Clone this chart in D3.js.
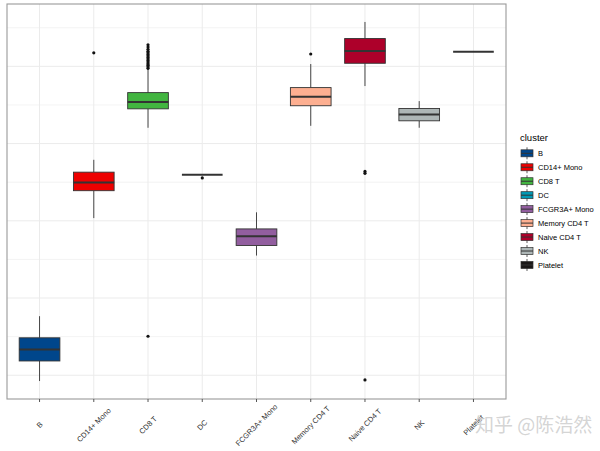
<html><head>
<meta charset="utf-8">
<title>cluster boxplot</title>
<script src="https://d3js.org/d3.v7.min.js"></script>
<style>
  body { margin: 0; background: #fff; }
  svg { display: block; font-family: "Liberation Sans", Arial, sans-serif; }
</style>
</head>
<body>
<div id="chart"></div>
<script>
// categories and colours (ggsci lancet)
const clusters = ["B", "CD14+ Mono", "CD8 T", "DC", "FCGR3A+ Mono", "Memory CD4 T", "Naive CD4 T", "NK", "Platelet"];
const colors = ["#00468B", "#ED0000", "#42B540", "#0099B4", "#925E9F", "#FDAF91", "#AD002A", "#ADB6B6", "#1B1919"];

// box stats: lower whisker, q1, median, q3, upper whisker
const lowerWhisker = [-0.15, 4.07, 6.41, 5.19, 3.10, 6.46, 7.49, 6.41, 8.38];
const q1 = [0.37, 4.78, 6.90, 5.19, 3.36, 6.98, 8.08, 6.59, 8.38];
const median = [0.67, 4.99, 7.08, 5.19, 3.60, 7.21, 8.40, 6.75, 8.38];
const q3 = [0.97, 5.26, 7.32, 5.19, 3.79, 7.45, 8.72, 6.91, 8.38];
const upperWhisker = [1.53, 5.58, 7.93, 5.19, 4.22, 8.06, 9.15, 7.10, 8.38];
const outliers = [
  [],
  [8.35],
  [1.01, 7.95, 7.99, 8.03, 8.07, 8.11, 8.15, 8.19, 8.23, 8.27, 8.31, 8.35, 8.39, 8.44, 8.50, 8.56],
  [5.11],
  [],
  [8.32],
  [5.28, 5.23, -0.12],
  [],
  []
];
const yGrid = [0, 1, 2, 3, 4, 5, 6, 7, 8, 9];

const W = 600, H = 451;
const margin = {left: 7, top: 4, right: 94, bottom: 52};
const pw = W - margin.left - margin.right;
const ph = H - margin.top - margin.bottom;

const svg = d3.select("#chart").append("svg").attr("width", W).attr("height", H);
const g = svg.append("g").attr("transform", `translate(${margin.left},${margin.top})`);

// discrete axis: 0.6 units of expansion on each side, like ggplot
const x = d3.scalePoint().domain(clusters).range([0, pw]).padding(0.6);

const allVals = lowerWhisker.concat(upperWhisker, outliers.flat());
const lo = d3.min(allVals), hi = d3.max(allVals);
const pad = (hi - lo) * 0.05;
const y = d3.scaleLinear().domain([lo - pad, hi + pad]).range([ph, 0]);

// grid
g.selectAll(".hgrid").data(yGrid).join("line")
  .attr("x1", 0).attr("x2", pw)
  .attr("y1", d => y(d)).attr("y2", d => y(d))
  .attr("stroke", "#ebebeb").attr("stroke-width", d => d % 2 ? 0.6 : 1);
g.selectAll(".vgrid").data(clusters).join("line")
  .attr("x1", d => x(d)).attr("x2", d => x(d))
  .attr("y1", 0).attr("y2", ph)
  .attr("stroke", "#ebebeb").attr("stroke-width", 1);

const bw = x.step() * 0.75;
const boxes = g.selectAll(".box").data(clusters).join("g").attr("class", "box");

boxes.append("line")
  .attr("x1", d => x(d)).attr("x2", d => x(d))
  .attr("y1", (d, i) => y(upperWhisker[i])).attr("y2", (d, i) => y(q3[i]))
  .attr("stroke", "#333").attr("stroke-width", 0.9);
boxes.append("line")
  .attr("x1", d => x(d)).attr("x2", d => x(d))
  .attr("y1", (d, i) => y(q1[i])).attr("y2", (d, i) => y(lowerWhisker[i]))
  .attr("stroke", "#333").attr("stroke-width", 0.9);
boxes.append("rect")
  .attr("x", d => x(d) - bw / 2).attr("width", bw)
  .attr("y", (d, i) => y(q3[i])).attr("height", (d, i) => y(q1[i]) - y(q3[i]))
  .attr("fill", (d, i) => colors[i])
  .attr("stroke", "#333").attr("stroke-width", 0.9);
boxes.append("line")
  .attr("x1", d => x(d) - bw / 2).attr("x2", d => x(d) + bw / 2)
  .attr("y1", (d, i) => y(median[i])).attr("y2", (d, i) => y(median[i]))
  .attr("stroke", "#333").attr("stroke-width", 2);

boxes.each(function(d, i) {
  d3.select(this).selectAll("circle").data(outliers[i]).join("circle")
    .attr("cx", x(d)).attr("cy", v => y(v)).attr("r", 1.6).attr("fill", "#111");
});

// panel border
g.append("rect").attr("x", 0).attr("y", 0).attr("width", pw).attr("height", ph)
  .attr("fill", "none").attr("stroke", "#9a9a9a").attr("stroke-width", 1.1);

// x axis ticks and labels
const xa = g.append("g").attr("transform", `translate(0,${ph})`);
xa.selectAll("line").data(clusters).join("line")
  .attr("x1", d => x(d)).attr("x2", d => x(d)).attr("y1", 0).attr("y2", 3)
  .attr("stroke", "#555").attr("stroke-width", 1);
xa.selectAll("text").data(clusters).join("text")
  .attr("transform", d => `translate(${x(d)},26) rotate(-45)`)
  .attr("text-anchor", "middle").attr("dy", "0.35em")
  .attr("font-size", 7.5).attr("fill", "#333")
  .text(d => d);

// legend
const lg = svg.append("g").attr("transform", "translate(520,0)");
lg.append("text").attr("x", 0).attr("y", 141).attr("font-size", 9.5).attr("fill", "#000").text("cluster");
const items = lg.selectAll(".item").data(clusters).join("g")
  .attr("transform", (d, i) => `translate(0,${153.3 + i * 13.96})`);
items.append("line").attr("x1", 7).attr("x2", 7).attr("y1", -6).attr("y2", 6)
  .attr("stroke", "#333").attr("stroke-width", 0.8);
items.append("rect").attr("x", 1).attr("y", -3.5).attr("width", 12).attr("height", 7)
  .attr("fill", (d, i) => colors[i]).attr("stroke", "#333").attr("stroke-width", 0.7);
items.append("line").attr("x1", 1).attr("x2", 13).attr("y1", 0).attr("y2", 0)
  .attr("stroke", "#333").attr("stroke-width", 1);
items.append("text").attr("x", 18).attr("y", 0).attr("dy", "0.35em")
  .attr("font-size", 7.5).attr("fill", "#000").text(d => d);

// watermark
svg.append("text").attr("x", 475).attr("y", 432)
  .attr("font-family", "'Noto Sans CJK SC', sans-serif").attr("font-size", 19)
  .attr("fill", "#cfcfcf").attr("fill-opacity", 0.9)
  .text("知乎 @陈浩然");
</script>
</body></html>
